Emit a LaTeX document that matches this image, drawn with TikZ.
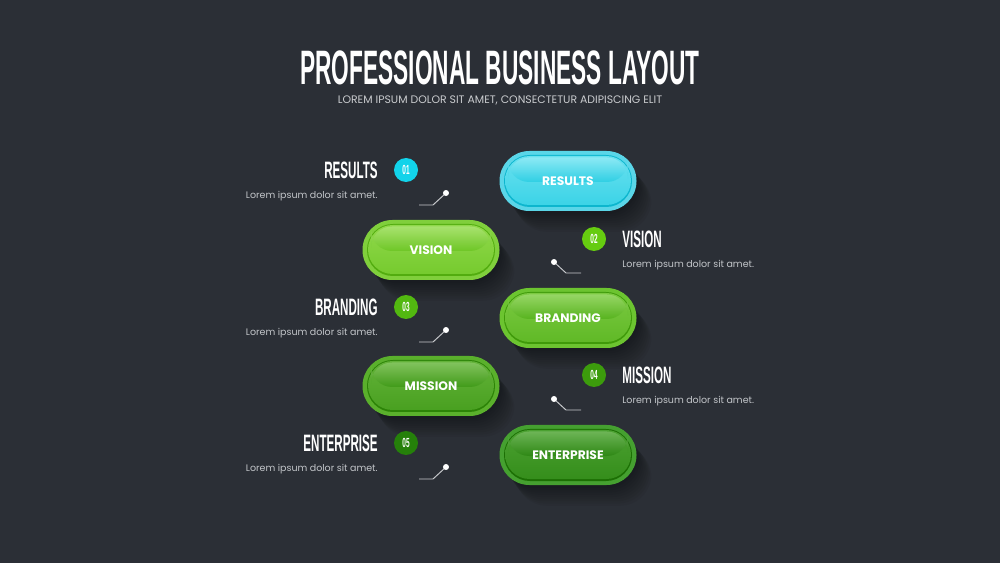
\documentclass[tikz,border=0pt]{standalone}
\usepackage{fontspec}
\setmainfont{Poppins}
\newfontfamily\cond{Liberation Sans}[FakeStretch=0.47]
\newfontfamily\condh{Liberation Sans}[FakeStretch=0.49]
\definecolor{bg}{HTML}{2B2F36}
\definecolor{lgray}{HTML}{C2C5C9}
\definecolor{sgray}{HTML}{C9CBCE}
\definecolor{linec}{HTML}{C8CACD}
% pill colours
\definecolor{aRim}{HTML}{5AD6E8}\definecolor{aBase}{HTML}{0FC6DE}\definecolor{aLight}{HTML}{8FECF7}\definecolor{aDark}{HTML}{0AA8C0}
\definecolor{bRim}{HTML}{80CF3C}\definecolor{bBase}{HTML}{5CBD12}\definecolor{bLight}{HTML}{A6E463}\definecolor{bDark}{HTML}{4A9E0C}
\definecolor{cRim}{HTML}{6CC430}\definecolor{cBase}{HTML}{45A80C}\definecolor{cLight}{HTML}{92D858}\definecolor{cDark}{HTML}{3A8F08}
\definecolor{dRim}{HTML}{5AB02C}\definecolor{dBase}{HTML}{2F8E08}\definecolor{dLight}{HTML}{79C24E}\definecolor{dDark}{HTML}{2A7A06}
\definecolor{eRim}{HTML}{45A030}\definecolor{eBase}{HTML}{1E7A05}\definecolor{eLight}{HTML}{5FB244}\definecolor{eDark}{HTML}{1A6604}
% badge colours
\definecolor{n1}{HTML}{12D3EA}\definecolor{n2}{HTML}{66CC10}\definecolor{n3}{HTML}{52B810}\definecolor{n4}{HTML}{3C9C0C}\definecolor{n5}{HTML}{25800A}

\tikzset{
  pilltext/.style={text=white,font=\bfseries\fontsize{7}{8}\selectfont,inner sep=0pt},
  head/.style={text=white,font=\condh\bfseries\fontsize{13.5}{15}\selectfont,inner sep=0pt},
  lorem/.style={text=lgray,font=\fontsize{5.4}{6.5}\selectfont,inner sep=0pt},
  badge/.style={circle,minimum size=0.48cm,inner sep=0pt,text=white,font=\condh\bfseries\fontsize{7.5}{8}\selectfont},
  conn/.style={draw=linec,line width=0.55pt},
  dotc/.style={fill=white},
}

\newcommand\pill[5]{% name, cx, cy, colour key, label
  \begin{scope}[shift={(#2,#3)}]
    \foreach \k in {1,...,9}{%
      \fill[black,opacity=0.045,rounded corners=18pt] (-67+\k*1.6,-27+\k*2) rectangle (69+\k*1.6,31+\k*2.2);}
    \fill[#4Rim,rounded corners=17pt] (-68.5,-30) rectangle (68.5,30);
    \fill[#4Dark!55!#4Base,rounded corners=14.7pt] (-64,-26) rectangle (64,26);
    \shade[rounded corners=14pt,top color=#4Light!70!#4Base,middle color=#4Base,bottom color=#4Light!35!#4Base] (-63,-25) rectangle (63,24);
    \shade[rounded corners=12pt,top color=#4Light!70!white,bottom color=#4Base,opacity=0.5] (-60,-23.5) rectangle (60,1);
    \node[pilltext] (#1) at (0,0) {#5};
  \end{scope}
}

\begin{document}
\begin{tikzpicture}[x=0.02cm,y=-0.02cm]
  \fill[bg] (0,0) rectangle (1000,563);
  \useasboundingbox (0,0) rectangle (1000,563);

  % title
  \node[text=white,font=\cond\bfseries\fontsize{27.5}{30}\selectfont,inner sep=0pt] (title) at (500,67.5) {PROFESSIONAL BUSINESS LAYOUT};
  \node[text=sgray,font=\fontsize{6.2}{7}\selectfont,inner sep=0pt] (subtitle) at (500,100) {LOREM IPSUM DOLOR SIT AMET, CONSECTETUR ADIPISCING ELIT};

  % pills
  \pill{p1}{568}{181}{a}{RESULTS}
  \pill{p2}{431}{250}{b}{VISION}
  \pill{p3}{568}{318}{c}{BRANDING}
  \pill{p4}{431}{386}{d}{MISSION}
  \pill{p5}{568}{455}{e}{ENTERPRISE}

  % left items
  \node[badge,fill=n1] (b1) at (406,170) {01};
  \node[head,anchor=east] (h1) at (378,170) {RESULTS};
  \node[lorem,anchor=east] (l1) at (378,196) {Lorem ipsum dolor sit amet.};

  \node[badge,fill=n3] (b3) at (406,307) {03};
  \node[head,anchor=east] (h3) at (378,307) {BRANDING};
  \node[lorem,anchor=east] (l3) at (378,333) {Lorem ipsum dolor sit amet.};

  \node[badge,fill=n5] (b5) at (406,443) {05};
  \node[head,anchor=east] (h5) at (378,443) {ENTERPRISE};
  \node[lorem,anchor=east] (l5) at (378,469) {Lorem ipsum dolor sit amet.};

  % right items
  \node[badge,fill=n2] (b2) at (594,239) {02};
  \node[head,anchor=west] (h2) at (622,239) {VISION};
  \node[lorem,anchor=west] (l2) at (622,265) {Lorem ipsum dolor sit amet.};

  \node[badge,fill=n4] (b4) at (594,375) {04};
  \node[head,anchor=west] (h4) at (622,375) {MISSION};
  \node[lorem,anchor=west] (l4) at (622,401) {Lorem ipsum dolor sit amet.};

  % connectors (left)
  \foreach \i/\y in {1/0,3/137,5/274}{
    \coordinate (s\i) at (419,205+\y);
    \coordinate (k\i) at (433,205+\y);
    \coordinate (d\i) at (446,193+\y);
    \draw[conn] (s\i) -- (k\i) -- (d\i);
    \fill[dotc] (d\i) circle (1.7pt);
  }
  % connectors (right)
  \foreach \i/\y in {2/0,4/137}{
    \coordinate (d\i) at (554,262+\y);
    \coordinate (k\i) at (566,273+\y);
    \coordinate (s\i) at (581,273+\y);
    \draw[conn] (d\i) -- (k\i) -- (s\i);
    \fill[dotc] (d\i) circle (1.7pt);
  }
\end{tikzpicture}
\end{document}
